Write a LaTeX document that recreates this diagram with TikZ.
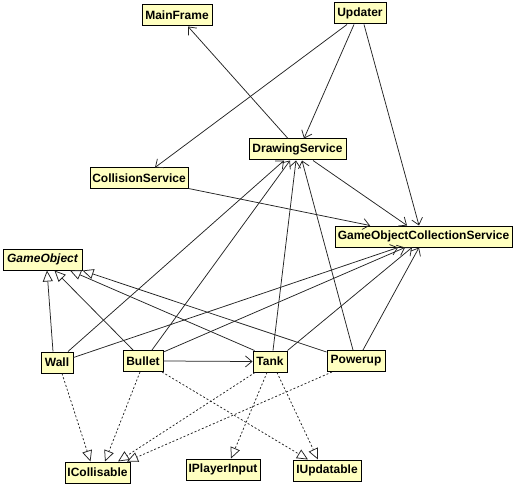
\documentclass[tikz,border=0pt]{standalone}
\usepackage{fontspec}
\setmainfont{Liberation Sans}
\usetikzlibrary{arrows.meta}
\definecolor{boxfill}{RGB}{255,255,192}
\definecolor{edgecol}{RGB}{35,35,35}
\begin{document}
\begin{tikzpicture}[x=1pt,y=-1pt,
  cls/.style={draw=black, line width=1pt, fill=boxfill, font=\fontsize{12}{14}\selectfont\bfseries, inner sep=0pt, minimum height=21pt, anchor=center},
  dep/.style={draw=edgecol, line width=0.75pt, -{Straight Barb[length=6.5pt,width=11pt]}},
  gen/.style={draw=edgecol, line width=0.75pt, -{Triangle[open,length=11pt,width=10pt,fill=white]}},
  real/.style={gen, dash pattern=on 2pt off 2pt}]
\useasboundingbox (0,0) rectangle (515,487);
\node[cls, minimum width=70pt] (MF) at (177,15.5) {MainFrame};
\node[cls, minimum width=52pt] (Upd) at (360,13.5) {Updater};
\node[cls, minimum width=97pt] (DS) at (297.5,149.5) {DrawingService};
\node[cls, minimum width=98pt] (CS) at (139,178.5) {CollisionService};
\node[cls, minimum width=177pt] (GOCS) at (423.5,236.5) {GameObjectCollectionService};
\node[cls, minimum width=79pt] (GO) at (42.5,259.5) {\itshape GameObject};
\node[cls, minimum width=32pt] (Wall) at (57,362.5) {Wall};
\node[cls, minimum width=40pt] (Bullet) at (143,361) {Bullet};
\node[cls, minimum width=34pt] (Tank) at (270,361.5) {Tank};
\node[cls, minimum width=58pt] (Pow) at (356,361) {Powerup};
\node[cls, minimum width=65pt] (ICol) at (97.5,472.5) {ICollisable};
\node[cls, minimum width=74pt] (IPI) at (223,469.5) {IPlayerInput};
\node[cls, minimum width=68pt] (IUp) at (327,470.5) {IUpdatable};

\draw[dep] ([xshift=-9.5pt]DS.north) -- ([xshift=11pt]MF.south);
\draw[dep] ([xshift=-13pt]Upd.south) -- ([xshift=16pt]CS.north);
\draw[dep] ([xshift=-6pt]Upd.south) -- ([xshift=6.5pt]DS.north);
\draw[dep] ([xshift=4pt]Upd.south) -- ([xshift=-4.5pt]GOCS.north);
\draw[dep] ([yshift=1pt]CS.south east) -- ([xshift=-53.5pt]GOCS.north);
\draw[dep] ([xshift=15.5pt]DS.south) -- ([xshift=-16.5pt]GOCS.north);
\draw[dep] ([xshift=11pt]Wall.north) -- ([xshift=-13.5pt]DS.south);
\draw[dep] ([xshift=9pt]Bullet.north) -- ([xshift=-7.5pt]DS.south);
\draw[dep] ([xshift=3pt]Tank.north) -- ([xshift=-1.5pt]DS.south);
\draw[dep] ([xshift=-3pt]Pow.north) -- ([xshift=4.5pt]DS.south);
\draw[dep] ([yshift=5pt]Wall.east) -- ([xshift=-25.5pt]GOCS.south);
\draw[dep] ([yshift=-2pt]Bullet.north east) -- ([xshift=-18.5pt]GOCS.south);
\draw[dep] (Tank.north east) -- ([xshift=-11.5pt]GOCS.south);
\draw[dep] ([xshift=7pt]Pow.north) -- ([xshift=-4.5pt]GOCS.south);
\draw[dep] (Bullet.east) -- (Tank.west);

\draw[gen] ([xshift=-4pt]Wall.north) -- ([xshift=4.5pt]GO.south);
\draw[gen] ([xshift=-10pt]Bullet.north) -- ([xshift=12pt]GO.south);
\draw[gen] ([xshift=2pt]Tank.north west) -- ([xshift=27.5pt]GO.south);
\draw[gen] ([yshift=-2pt]Pow.north west) -- (GO.south east);

\draw[real] ([xshift=5pt]Wall.south) -- ([xshift=-7pt]ICol.north);
\draw[real] ([xshift=-3pt]Bullet.south) -- ([xshift=7.5pt]ICol.north);
\draw[real] ([xshift=-15pt]Tank.south) -- ([xshift=20.5pt]ICol.north);
\draw[real] ([xshift=-24pt]Pow.south) -- ([xshift=29.5pt]ICol.north);
\draw[real] ([xshift=-3pt]Tank.south) -- ([xshift=8pt]IPI.north);
\draw[real] ([xshift=19pt]Bullet.south) -- ([xshift=-19pt]IUp.north);
\draw[real] ([xshift=7pt]Tank.south) -- ([xshift=-9pt]IUp.north);
\end{tikzpicture}
\end{document}
